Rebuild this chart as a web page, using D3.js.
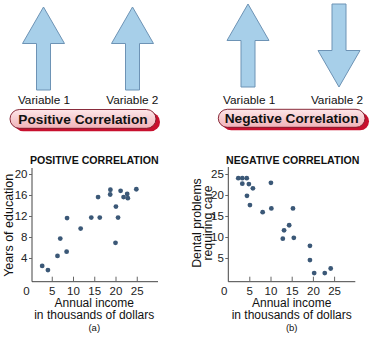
<!DOCTYPE html>
<html><head><meta charset="utf-8">
<script src="https://cdn.jsdelivr.net/npm/d3@7"></script>
<style>
html,body{margin:0;padding:0;background:#fff;}
svg{display:block;font-family:"Liberation Sans",Arial,Helvetica,sans-serif;}
</style></head>
<body>
<svg id="c" width="380" height="339"></svg>
<script>
// ---- data ----
const posIncome = [2.75,4.1,6.35,7.0,8.5,8.6,11.8,14.3,15.9,16.3,18.75,18.8,20.1,20.0,20.6,21.2,21.9,22.75,22.9,24.9];
const posEducation = [2.5,1.7,4.4,7.7,5.2,11.6,9.6,11.7,15.6,11.7,16.1,17.0,13.8,6.9,11.7,16.8,15.6,16.2,15.4,17.1];
const negIncome = [2.4,3.35,4.4,3.35,4.9,5.85,4.45,5.15,10.1,8.15,10.2,15.3,13.2,14.4,12.9,15.5,19.3,19.3,20.3,22.8,24.2];
const negDental = [24.0,24.0,24.0,22.7,22.6,21.6,19.8,17.6,22.9,15.9,16.8,16.8,11.6,12.8,9.6,9.8,7.9,4.5,1.4,1.4,2.5];
const xTicks = [5,10,15,20,25];
const posYTicks = [4,8,12,16,20];
const negYTicks = [5,10,15,20,25];
const panelTitles = ["Positive Correlation","Negative Correlation"];
const chartTitles = ["POSITIVE CORRELATION","NEGATIVE CORRELATION"];
const variableLabels = ["Variable 1","Variable 2"];
const arrowDirections = [["up","up"],["up","down"]];
const xLabelLines = ["Annual income","in thousands of dollars"];
const yLabels = [["Years of education"],["Dental problems","requiring care"]];
const subLabels = ["(a)","(b)"];

const svg = d3.select("#c");
const defs = svg.append("defs");
const grad = defs.append("linearGradient").attr("id","pill").attr("x1",0).attr("y1",0).attr("x2",0).attr("y2",1);
grad.append("stop").attr("offset","0%").attr("stop-color","#fde6e8");
grad.append("stop").attr("offset","100%").attr("stop-color","#f1b3b9");

// ---- top panels ----
const panels = [
  {arrowX:[43.5,132.5], pill:{x0:10,x1:156,y0:109.5,y1:128.3}, top:7, labelX:[44,132.3]},
  {arrowX:[248,339], pill:{x0:218.3,x1:365,y0:109.3,y1:127.3}, top:4, labelX:[249.2,337]}
];
const headH = 36.5, headW = 42, shaftW = 14, arrowLen = 83;
function arrowPath(cx, top, dir){
  const bot = top + arrowLen;
  let pts;
  if(dir==="up"){
    const hb = top + headH;
    pts = [[cx,top],[cx+headW/2,hb],[cx+shaftW/2,hb],[cx+shaftW/2,bot],[cx-shaftW/2,bot],[cx-shaftW/2,hb],[cx-headW/2,hb]];
  } else {
    const hb = bot - headH;
    pts = [[cx,bot],[cx+headW/2,hb],[cx+shaftW/2,hb],[cx+shaftW/2,top],[cx-shaftW/2,top],[cx-shaftW/2,hb],[cx-headW/2,hb]];
  }
  return d3.line()(pts) + "Z";
}
panels.forEach((p,i)=>{
  const g = svg.append("g");
  arrowDirections[i].forEach((dir,j)=>{
    g.append("path").attr("d", arrowPath(p.arrowX[j], p.top, dir))
      .attr("fill","#a7cfe9").attr("stroke","#6d93b5").attr("stroke-width",1);
    g.append("text").attr("x",p.labelX[j]).attr("y",103.5).attr("text-anchor","middle")
      .attr("font-size","11.8px").attr("fill","#111").text(variableLabels[j]);
  });
  const pw = p.pill.x1-p.pill.x0, ph = p.pill.y1-p.pill.y0;
  g.append("rect").attr("x",p.pill.x0+4).attr("y",p.pill.y0+3).attr("width",pw).attr("height",ph)
    .attr("rx",ph/2).attr("fill","#c8102e");
  g.append("rect").attr("x",p.pill.x0).attr("y",p.pill.y0).attr("width",pw).attr("height",ph)
    .attr("rx",ph/2).attr("fill","url(#pill)").attr("stroke","#7a1426").attr("stroke-width",0.9);
  g.append("text").attr("x",(p.pill.x0+p.pill.x1)/2).attr("y",(p.pill.y0+p.pill.y1)/2+5)
    .attr("text-anchor","middle").attr("font-size","13.7px").attr("font-weight","bold").attr("fill","#111")
    .text(panelTitles[i]);
});

// ---- scatter charts ----
const charts = [
  {xs:posIncome, ys:posEducation, yDomain:[0,20], yTicks:posYTicks, xRange:[30.5,158], axisX:32, yTop:168},
  {xs:negIncome, ys:negDental, yDomain:[0,25], yTicks:negYTicks, xRange:[228.1,355.3], axisX:228.3, yTop:167}
];
charts.forEach((c,i)=>{
  const g = svg.append("g");
  const x = d3.scaleLinear().domain([0,30]).range(c.xRange);
  const y = d3.scaleLinear().domain(c.yDomain).range([279,174]);
  const axisY = 281.7;
  g.append("line").attr("x1",c.axisX).attr("x2",c.axisX).attr("y1",axisY).attr("y2",c.yTop)
    .attr("stroke","#444").attr("stroke-width",1);
  g.append("line").attr("x1",c.axisX).attr("x2",x(30)).attr("y1",axisY).attr("y2",axisY)
    .attr("stroke","#444").attr("stroke-width",1);
  const xa = g.append("g").attr("transform",`translate(0,${axisY})`)
    .call(d3.axisBottom(x).tickValues(xTicks).tickSizeInner(-5).tickSizeOuter(0).tickPadding(5));
  xa.select(".domain").remove();
  xa.selectAll("line").attr("stroke","#666");
  xa.selectAll("text").attr("font-size","11.5px").attr("fill","#222").attr("font-family",null);
  g.append("text").attr("x",x(0)-4).attr("y",axisY+5).attr("dy","0.71em").attr("text-anchor","middle")
    .attr("font-size","11.5px").attr("fill","#222").text("0");
  const ya = g.append("g").attr("transform",`translate(${c.axisX},0)`)
    .call(d3.axisLeft(y).tickValues(c.yTicks).tickSizeInner(3).tickSizeOuter(0).tickPadding(1.5));
  ya.select(".domain").remove();
  ya.selectAll("line").attr("stroke","#666");
  ya.selectAll("text").attr("font-size","11.5px").attr("fill","#222").attr("font-family",null);
  g.selectAll("circle").data(c.xs.map((v,k)=>[v,c.ys[k]])).join("circle")
    .attr("cx",d=>x(d[0])).attr("cy",d=>y(d[1])).attr("r",2.4).attr("fill","#3b5877");
  const mid = (c.xRange[0]+c.xRange[1])/2;
  g.append("text").attr("x",mid+(i?1:0)).attr("y",163.5).attr("text-anchor","middle")
    .attr("font-size","10.6px").attr("font-weight","bold").attr("fill","#111").text(chartTitles[i]);
  g.append("text").attr("x",mid).attr("y",306.5).attr("text-anchor","middle")
    .attr("font-size","12px").attr("fill","#111").text(xLabelLines[0]);
  g.append("text").attr("x",mid).attr("y",319).attr("text-anchor","middle")
    .attr("font-size","12px").attr("fill","#111").text(xLabelLines[1]);
  g.append("text").attr("x",mid).attr("y",330.5).attr("text-anchor","middle")
    .attr("font-size","9.5px").attr("fill","#111").text(subLabels[i]);
  const lines = yLabels[i];
  const baseX = i===0 ? [12.5] : [201,211.5];
  const cy = i===0 ? 225.3 : 223;
  lines.forEach((t,k)=>{
    g.append("text").attr("transform",`translate(${baseX[k]},${cy}) rotate(-90)`)
      .attr("text-anchor","middle").attr("font-size", i===0?"12.5px":"12.3px").attr("fill","#111").text(t);
  });
});
</script>
</body></html>
